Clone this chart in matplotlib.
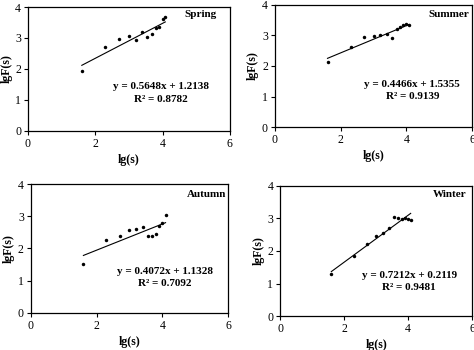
import matplotlib
matplotlib.use("Agg")
import matplotlib.pyplot as plt
import numpy as np

plt.rcParams['font.family'] = ['Liberation Serif', 'DejaVu Serif']

seasons = ["Spring", "Summer", "Autumn", "Winter"]

spring_x = [1.6, 2.3, 2.7, 3.0, 3.2, 3.4, 3.55, 3.7, 3.8, 3.9, 4.0, 4.08]
spring_y = [1.94, 2.71, 2.98, 3.05, 2.92, 3.18, 3.03, 3.12, 3.33, 3.35, 3.62, 3.68]
summer_x = [1.6, 2.3, 2.7, 3.0, 3.2, 3.4, 3.55, 3.7, 3.8, 3.9, 4.0, 4.08]
summer_y = [2.14, 2.61, 2.96, 2.98, 3.0, 3.04, 2.90, 3.2, 3.29, 3.34, 3.36, 3.35]
autumn_x = [1.6, 2.3, 2.7, 3.0, 3.2, 3.4, 3.57, 3.7, 3.8, 3.9, 4.0, 4.1]
autumn_y = [1.52, 2.27, 2.38, 2.56, 2.6, 2.67, 2.38, 2.38, 2.45, 2.69, 2.79, 3.03]
winter_x = [1.6, 2.3, 2.7, 3.0, 3.2, 3.4, 3.55, 3.67, 3.8, 3.9, 4.0, 4.08]
winter_y = [1.29, 1.83, 2.22, 2.47, 2.56, 2.72, 3.04, 3.01, 2.98, 3.01, 2.99, 2.96]

slopes = [0.5648, 0.4466, 0.4072, 0.7212]
intercepts = [1.2138, 1.5355, 1.1328, 0.2119]
r2 = [0.8782, 0.9139, 0.7092, 0.9481]

xs = [spring_x, summer_x, autumn_x, winter_x]
ys = [spring_y, summer_y, autumn_y, winter_y]

# layout (figure fractions) and annotation positions (data coords)
rects = [[0.059, 0.626, 0.426, 0.354],
         [0.580, 0.637, 0.416, 0.349],
         [0.065, 0.106, 0.416, 0.368],
         [0.591, 0.097, 0.405, 0.372]]
eq_pos = [(3.95, 1.42, 1.0), (4.18, 1.40, 0.99), (4.08, 1.29, 0.90), (4.03, 1.26, 0.87)]
season_pos = [(5.6, 3.75), (5.9, 3.67), (5.95, 3.69), (5.83, 3.72)]

fig = plt.figure(figsize=(4.74, 3.5), dpi=100)
for i in range(4):
    ax = fig.add_axes(rects[i])
    x = np.array(xs[i]); y = np.array(ys[i])
    ax.plot(x, y, 'o', color='black', markersize=2.5, markeredgewidth=0)
    lx = np.array([x.min(), x.max()])
    ax.plot(lx, slopes[i] * lx + intercepts[i], color='black', linewidth=0.8)
    ax.set_xlim(0, 6)
    ax.set_ylim(0, 4)
    ax.set_xticks([0, 2, 4, 6])
    ax.set_yticks([0, 1, 2, 3, 4])
    ax.tick_params(direction='out', length=3, width=0.8, labelsize=8.5, pad=2)
    for s in ax.spines.values():
        s.set_linewidth(0.9)
    ax.set_xlabel("lg(s)", fontsize=8.5, fontweight='bold', labelpad=3)
    ax.set_ylabel("lgF(s)", fontsize=8.5, fontweight='bold', labelpad=2)
    ex, ey1, ey2 = eq_pos[i]
    ax.text(ex, ey1, f"y = {slopes[i]:.4f}x + {intercepts[i]:.4f}", ha='center', va='center',
            fontsize=8, fontweight='bold')
    ax.text(ex, ey2, f"R² = {r2[i]:.4f}", ha='center', va='center',
            fontsize=8, fontweight='bold')
    sx, sy = season_pos[i]
    ax.text(sx, sy, seasons[i], ha='right', va='center', fontsize=8, fontweight='bold')

fig.savefig("out.png", dpi=100)
